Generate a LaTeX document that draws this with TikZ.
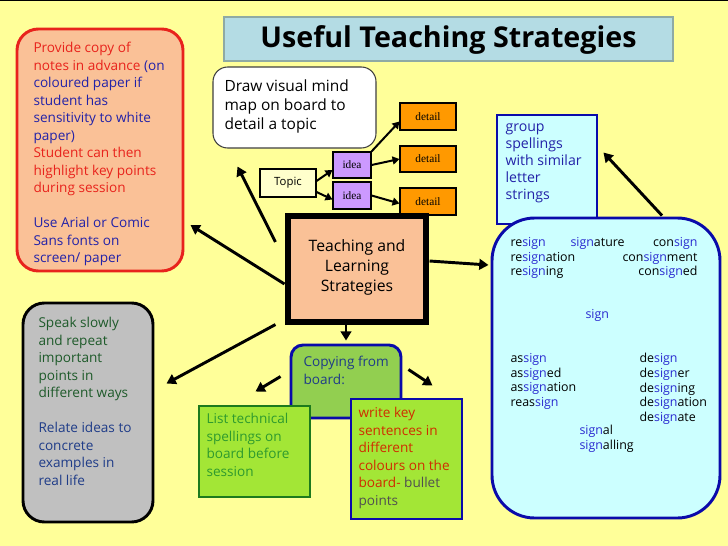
\documentclass[tikz,border=0pt]{standalone}
\usepackage{fontspec}
\setmainfont{Open Sans}
\newfontfamily\mapserif{Liberation Serif}
\usetikzlibrary{calc}
\usetikzlibrary{arrows.meta}
\usetikzlibrary{fit}
\definecolor{paper}{HTML}{FFFF99}
\definecolor{peach}{HTML}{FAC197}
\definecolor{notered}{HTML}{E8231C}
\definecolor{noteblue}{HTML}{2222A8}
\definecolor{titleblue}{HTML}{B4DCE4}
\definecolor{titleedge}{HTML}{8FAAA4}
\definecolor{topicyellow}{HTML}{FFFFCC}
\definecolor{lilac}{HTML}{CC99FF}
\definecolor{detailorange}{HTML}{FF9900}
\definecolor{paleblue}{HTML}{CCFFFF}
\definecolor{deepblue}{HTML}{0A0AAA}
\definecolor{signblue}{HTML}{2A2AD0}
\definecolor{slate}{HTML}{C0C0C0}
\definecolor{speakgreen}{HTML}{1E5A2A}
\definecolor{speaknavy}{HTML}{1F3C88}
\definecolor{grass}{HTML}{92CF50}
\definecolor{lime}{HTML}{A3E636}
\definecolor{darkgreen}{HTML}{1D7A1D}
\definecolor{listgreen}{HTML}{2E9A2E}
\definecolor{keyred}{HTML}{D02C00}
\definecolor{keygray}{HTML}{505050}
\newcommand{\sg}[1]{\textcolor{signblue}{#1}}
\tikzset{
	every path/.style={thick},
	box/.style={
		draw,
		inner sep=0pt,
	},
	titlebox/.style={
		box,
		fill=titleblue,
		draw=titleedge,
		line width=1.5pt,
	},
	notebox/.style={
		box,
		fill=peach,
		draw=notered,
		line width=2.2pt,
		rounded corners=16pt,
	},
	mapbox/.style={
		box,
		fill=white,
		draw=black!75,
		line width=0.8pt,
		rounded corners=11pt,
	},
	topicbox/.style={
		box,
		fill=topicyellow,
		line width=0.8pt,
	},
	ideabox/.style={
		box,
		fill=lilac,
		line width=0.8pt,
	},
	detailbox/.style={
		box,
		fill=detailorange,
		line width=0.8pt,
	},
	hubbox/.style={
		box,
		fill=peach,
		line width=3.8pt,
	},
	blueedge/.style={
		box,
		draw=deepblue,
		line width=2.2pt,
	},
	wordbox/.style={
		blueedge,
		fill=paleblue,
		rounded corners=32pt,
	},
	speakbox/.style={
		box,
		fill=slate,
		line width=2.2pt,
		rounded corners=16pt,
	},
	label/.style={
		inner sep=0pt,
		align=center,
	},
	serif/.style={
		label,
		font=\mapserif\fontsize{8.5}{9}\selectfont,
	},
	txt/.style={
		anchor=north west,
		align=left,
		inner sep=0pt,
		font=\fontsize{10.2}{13.1}\selectfont,
	},
	words/.style={
		anchor=north west,
		align=left,
		inner sep=0pt,
		font=\fontsize{9.3}{10.9}\selectfont,
	},
	link/.style={
		line width=2.2pt,
		-{Triangle[angle=60:8pt 0]}
	},
	twig/.style={
		line width=1.5pt,
		-{Triangle[angle=60:6pt 0]}
	},
}

\begin{document}
\begin{tikzpicture}[x=0.75pt, y=-0.75pt]
	\fill[paper] (0,0) rectangle (728,546);
	\useasboundingbox (0,0) rectangle (728,546);
	\draw[line width=1pt] (0,0.5) -- (728,0.5);

	\node[titlebox, fit={(224,17) (673,61)}] 	(title) {};
	\node[label, font=\fontsize{21.5}{24}\selectfont\bfseries] 	(titletxt) at ([yshift=-1pt]title.center) {Useful Teaching Strategies};

	% left notes
	\node[notebox, fit={(17,29) (183,271)}] 	(notes) {};
	\node[txt, text=noteblue] 	(notestxt) at (33,42) {\textcolor{notered}{Provide copy of}\\\textcolor{notered}{notes in advance} (on\\coloured paper if\\student has\\sensitivity to white\\paper)\\\textcolor{notered}{Student can then}\\\textcolor{notered}{highlight key points}\\\textcolor{notered}{during session}\\[13.1pt]Use Arial or Comic\\Sans fonts on\\screen/ paper};

	% mind map
	\node[mapbox, fit={(213,67) (376,148)}] 	(map) {};
	\node[txt, font=\fontsize{11.6}{14.2}\selectfont] 	(maptxt) at (224,79) {Draw visual mind\\map on board to\\detail a topic};

	\node[topicbox, fit={(260,169) (316,197)}] 	(topic) {};
	\node[label, font=\fontsize{8.5}{9}\selectfont] 	(topictxt) at (topic.center) {Topic};
	\node[ideabox, fit={(333,152) (371,178)}] 	(idea1) {};
	\node[serif] 	(idea1txt) at (idea1.center) {idea};
	\node[ideabox, fit={(333,182) (371,209)}] 	(idea2) {};
	\node[serif] 	(idea2txt) at (idea2.center) {idea};
	\node[detailbox, fit={(400,103) (456,130)}] 	(detail1) {};
	\node[serif] 	(detail1txt) at (detail1.center) {detail};
	\node[detailbox, fit={(400,146) (456,172)}] 	(detail2) {};
	\node[serif] 	(detail2txt) at (detail2.center) {detail};
	\node[detailbox, fit={(400,188) (456,215)}] 	(detail3) {};
	\node[serif] 	(detail3txt) at (detail3.center) {detail};

	\draw[twig] 	($(topic.east)+(0,-2)$) -- ($(idea1.west)+(0,5)$);
	\draw[twig] 	($(topic.east)+(0,9)$) -- ($(idea2.west)+(0,4)$);
	\draw[twig] 	(idea1.north east) -- ($(detail1.west)+(0,5)$);
	\draw[twig] 	(idea1.east) -- (detail2.west);
	\draw[twig] 	(idea2.east) -- ($(detail3.west)+(0,2)$);

	% hub
	\node[hubbox, fit={(288,216) (426,322)}] 	(hub) {};
	\node[label, font=\fontsize{11.8}{15}\selectfont] 	(hubtxt) at ([yshift=1pt]hub.center) {Teaching and\\Learning\\Strategies};

	% spellings
	\node[blueedge, fill=paleblue, fit={(497,115) (597,224)}] 	(group) {};
	\node[txt, text=noteblue, font=\fontsize{10.6}{12.75}\selectfont] 	(grouptxt) at (505,123) {group\\spellings\\with similar\\letter\\strings};

	\node[wordbox, fit={(492,218) (720,518)}] 	(signs) {};
	\node[words] 	(resign) at (510,237) {re\sg{sign}\\re\sg{sign}ation\\re\sg{sign}ing};
	\node[words] 	(signature) at (570,237) {\sg{sign}ature};
	\node[words, anchor=north east, align=right] 	(consign) at (698,237) {con\sg{sign}\\con\sg{sign}ment\\con\sg{sign}ed};
	\node[words] 	(sign) at (585,309) {\sg{sign}};
	\node[words] 	(assign) at (510,353) {as\sg{sign}\\as\sg{sign}ed\\as\sg{sign}ation\\reas\sg{sign}};
	\node[words] 	(design) at (639,353) {de\sg{sign}\\de\sg{sign}er\\de\sg{sign}ing\\de\sg{sign}ation\\de\sg{sign}ate};
	\node[words] 	(signal) at (579,425) {\sg{sign}al\\\sg{sign}alling};

	% speaking
	\node[speakbox, fit={(23,303) (153,522)}] 	(speak) {};
	\node[txt, text=speakgreen] 	(speaktxt) at (38,317) {Speak slowly\\and repeat\\important\\points in\\different ways\\[13.1pt]\textcolor{speaknavy}{Relate ideas to}\\\textcolor{speaknavy}{concrete}\\\textcolor{speaknavy}{examples in}\\\textcolor{speaknavy}{real life}};

	% board
	\node[blueedge, fill=grass, rounded corners=9pt, fit={(291,345) (401,418)}] 	(copy) {};
	\node[txt, text=speaknavy] 	(copytxt) at (303,356) {Copying from\\board:};

	\node[box, fill=lime, draw=darkgreen, line width=2.2pt, fit={(199,406) (310,497)}] 	(list) {};
	\node[txt, text=listgreen] 	(listtxt) at (206,413) {List technical\\spellings on\\board before\\session};

	\node[blueedge, fill=lime, fit={(351,399) (462,519)}] 	(key) {};
	\node[txt, text=keyred] 	(keytxt) at (358,407) {write key\\sentences in\\different\\colours on the\\board- \textcolor{keygray}{bullet}\\\textcolor{keygray}{points}};

%%%

	\draw[link] 	($(hub.west)+(-1,15)$) -- ($(notes.east)+(6,75)$);
	\draw[link] 	($(hub.west)+(-10,-27)$) -- ($(map.south)+(-57,18)$);
	\draw[link] 	($(hub.south west)+(-10,0)$) -- ($(speak.east)+(12,-29)$);
	\draw[link] 	(hub.south -| copy.north) -- ($(copy.north)+(0,-3)$);
	\draw[link] 	($(hub.east)+(1,-8)$) -- ($(signs.west)+(-2,-103)$);
	\draw[link] 	($(signs.north)+(56,-1)$) -- ($(group.east)+(5,-17)$);
	\draw[link] 	($(copy.west)+(-9,-5)$) -- ($(list.north)+(1,-13)$);
	\draw[link] 	($(copy.east)+(6,-12)$) -- ($(key.north)+(26,-12)$);
\end{tikzpicture}
\end{document}
